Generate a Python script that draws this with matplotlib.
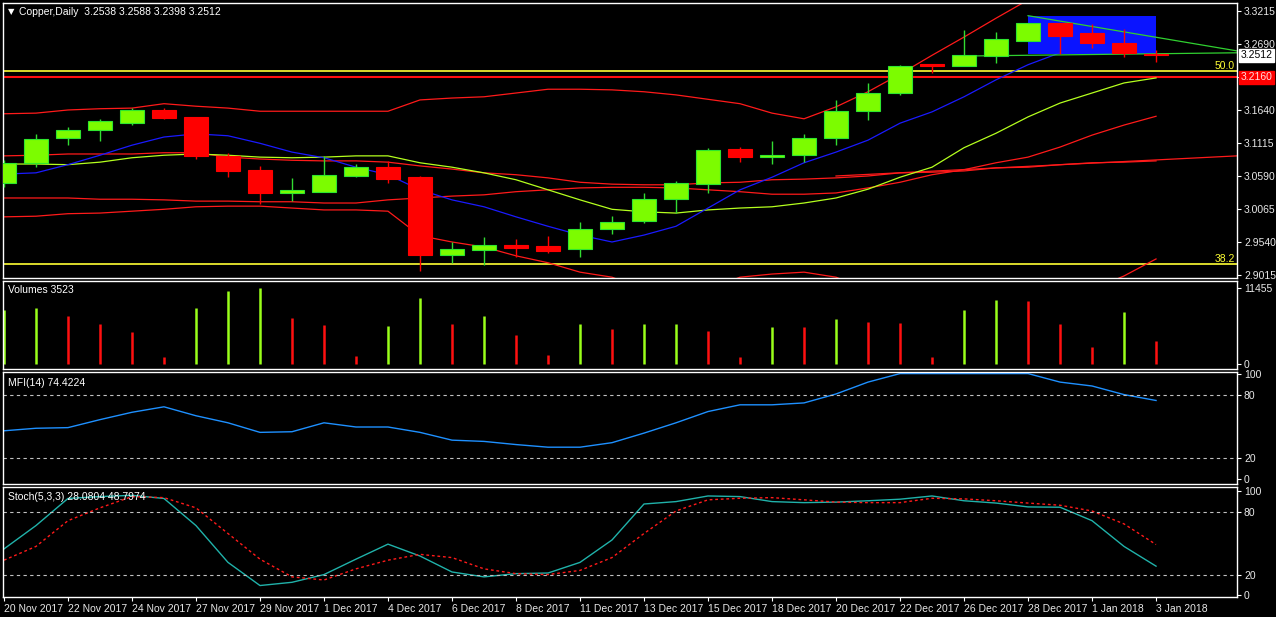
import matplotlib
matplotlib.use("Agg")
import matplotlib.pyplot as plt
import matplotlib.transforms as mtrans
import numpy as np

plt.rcParams['font.family'] = ['Liberation Sans', 'DejaVu Sans']

# ---------------- data ----------------
opens  = [3.048,3.080,3.120,3.132,3.143,3.164,3.153,3.091,3.069,3.032,3.034,3.059,3.073,3.057,2.933,
          2.941,2.949,2.948,2.943,2.975,2.987,3.022,3.046,3.102,3.089,3.092,3.120,3.162,3.191,3.237,
          3.234,3.250,3.274,3.302,3.287,3.271,3.2538]
highs  = [3.084,3.126,3.137,3.150,3.167,3.167,3.153,3.096,3.075,3.056,3.091,3.078,3.083,3.059,2.954,
          2.962,2.959,2.964,2.986,2.995,3.032,3.051,3.104,3.105,3.115,3.126,3.180,3.207,3.236,3.237,
          3.291,3.288,3.302,3.302,3.301,3.293,3.2588]
lows   = [3.042,3.073,3.108,3.115,3.140,3.150,3.086,3.057,3.014,3.019,3.034,3.057,3.048,2.908,2.921,
          2.917,2.930,2.937,2.930,2.967,2.984,3.000,3.032,3.081,3.078,3.081,3.108,3.148,3.188,3.223,
          3.234,3.239,3.274,3.253,3.263,3.248,3.2398]
closes = [3.080,3.118,3.132,3.147,3.164,3.151,3.091,3.067,3.032,3.037,3.061,3.073,3.054,2.933,2.943,
          2.949,2.944,2.940,2.975,2.986,3.022,3.048,3.100,3.089,3.092,3.120,3.162,3.191,3.234,3.234,
          3.252,3.277,3.302,3.282,3.271,3.255,3.2512]

ma_blue = [3.062,3.064,3.077,3.092,3.108,3.121,3.126,3.123,3.111,3.097,3.088,3.073,3.061,3.037,3.021,
           3.010,2.994,2.979,2.965,2.954,2.965,2.979,3.008,3.037,3.057,3.080,3.097,3.116,3.143,3.161,
           3.185,3.212,3.236,3.255]
ma_yellow = [3.078,3.078,3.077,3.081,3.088,3.092,3.094,3.092,3.089,3.088,3.089,3.091,3.091,3.080,3.073,
             3.064,3.053,3.037,3.021,3.006,3.002,3.000,3.005,3.008,3.010,3.016,3.024,3.038,3.057,3.073,
             3.104,3.127,3.153,3.175,3.191,3.207,3.215]
bb_upper = [3.158,3.159,3.164,3.166,3.167,3.174,3.170,3.167,3.162,3.162,3.162,3.162,3.162,3.180,3.183,
            3.185,3.191,3.197,3.197,3.196,3.193,3.188,3.181,3.174,3.159,3.150,3.169,3.193,3.221,3.251,
            3.280,3.310,3.339,3.368,3.396,3.425,3.454]
bb_mid = [3.091,3.092,3.094,3.094,3.094,3.096,3.096,3.089,3.086,3.084,3.083,3.083,3.081,3.075,3.070,
          3.064,3.061,3.056,3.049,3.046,3.045,3.045,3.048,3.049,3.053,3.054,3.056,3.059,3.064,3.065,
          3.067,3.072,3.073,3.077,3.080,3.081,3.083]
bb_lower = [2.994,2.995,2.999,3.000,3.003,3.006,3.010,3.011,3.011,3.008,3.005,3.005,3.003,2.964,2.954,
            2.946,2.932,2.921,2.906,2.898,2.878,2.870,2.878,2.898,2.903,2.906,2.898,2.878,2.862,2.862,
            2.862,2.862,2.862,2.862,2.878,2.900,2.927]
ma_red2 = [3.024,3.024,3.024,3.022,3.022,3.021,3.019,3.019,3.018,3.018,3.016,3.016,3.021,3.024,3.027,
           3.029,3.034,3.037,3.040,3.041,3.041,3.040,3.037,3.034,3.030,3.030,3.032,3.040,3.049,3.061,
           3.069,3.080,3.089,3.105,3.124,3.140,3.154]
red_trend_x = [26, 38.53]
red_trend_y = [3.059, 3.091]
green_top_x = [32, 38.53]
green_top_y = [3.314, 3.258]
green_low_x = [30.3, 38.53]
green_low_y = [3.250, 3.255]
rect_x = [32, 36]
rect_y = [3.253, 3.314]
fib50 = 3.226
fib382 = 2.919
level_red = 3.2160

volumes = [8184,8482,7190,6003,4811,1091,8482,11000,11455,6994,5853,1240,5704,9970,6003,7190,4365,1389,
           6003,5208,6003,6101,4910,1042,5506,5506,6845,6398,6250,1042,8184,9672,9523,6101,2530,7886,3523]
mfi = [45.6,48.0,48.6,56.2,63.2,68.4,59.9,53.2,44.1,44.7,53.2,49.2,49.2,44.1,36.7,35.5,32.5,30.0,30.0,
       34.3,43.4,53.2,63.9,70.3,70.3,72.1,80.6,91.9,100,100,100,100,100,91.9,88.2,80.0,74.4224]
stoch_k = [44.6,67,93,94.8,96,93,67,31.7,9.5,12.6,20,34.8,49.2,37.8,22.5,17.8,20.9,21.5,31.7,53.2,87.7,
           90,95.4,94.8,90,89,89.5,90.8,92.3,95.4,90.8,88.6,84.9,84.6,71.7,47,28.0804]
stoch_d = [33.8,47,71.7,84,94.8,93.8,84,59.4,34.8,17.8,14.8,25.5,33.8,39.4,36.3,25.5,20.9,20,24,36.3,59.4,
           81,91.7,93.2,93.8,91.7,89.5,89,89,93.2,92.6,90.8,88.6,86.5,81,68.6,48.7974]
date_labels = ["20 Nov 2017","22 Nov 2017","24 Nov 2017","27 Nov 2017","29 Nov 2017","1 Dec 2017",
               "4 Dec 2017","6 Dec 2017","8 Dec 2017","11 Dec 2017","13 Dec 2017","15 Dec 2017",
               "18 Dec 2017","20 Dec 2017","22 Dec 2017","26 Dec 2017","28 Dec 2017","1 Jan 2018",
               "3 Jan 2018"]
price_ticks = [3.3215,3.2690,3.2160,3.1640,3.1115,3.0590,3.0065,2.9540,2.9015]

# ---------------- layout ----------------
W, H = 1276, 617
fig = plt.figure(figsize=(W/100, H/100), dpi=100, facecolor='black')
FS = 7.5

def add(l, t, r, b):
    ax = fig.add_axes([l/W, 1-b/H, (r-l)/W, (b-t)/H])
    ax.set_facecolor('black')
    for s in ax.spines.values():
        s.set_color('white'); s.set_linewidth(1)
    ax.tick_params(colors='white', labelcolor='#e8e8e8', labelsize=FS, length=3, width=0.8,
                   left=False, labelleft=False, bottom=False, labelbottom=False,
                   right=True, labelright=True, pad=2)
    return ax

n = len(closes)
x = np.arange(n)
XL = (-0.03, 38.53)

ax = add(3, 3, 1237, 278)
axv = add(3, 281, 1237, 369)
axm = add(3, 372, 1237, 484)
axs = add(3, 487, 1237, 597)
for a in (ax, axv, axm, axs):
    a.set_xlim(*XL)

# main
ax.set_ylim(2.8967, 3.3342)
ax.set_yticks(price_ticks)
ax.set_yticklabels(["" if p == level_red else f"{p:.4f}" for p in price_ticks])
ax.axhline(fib50, color='#ffff33', lw=1.2, zorder=1)
ax.axhline(fib382, color='#ffff33', lw=1.2, zorder=1)
ax.axhline(level_red, color='#ff1010', lw=1.5, zorder=1)
ax.fill_between(rect_x, rect_y[0], rect_y[1], color='#0a14ff', zorder=1, lw=0)
ax.plot(x, bb_upper, color='#ff1a1a', lw=0.9, zorder=2)
ax.plot(x, bb_mid, color='#ff1a1a', lw=0.9, zorder=2)
ax.plot(x, bb_lower, color='#ff1a1a', lw=0.9, zorder=2)
ax.plot(x, ma_red2, color='#ff1a1a', lw=0.9, zorder=2)
ax.plot(red_trend_x, red_trend_y, color='#ff1a1a', lw=0.9, zorder=2)
ax.plot(x, ma_yellow, color='#b4ff1e', lw=0.9, zorder=2)
ax.plot(np.arange(len(ma_blue)), ma_blue, color='#1a1aff', lw=0.9, zorder=2)
ax.plot(green_top_x, green_top_y, color='#30d030', lw=0.9, zorder=2)
ax.plot(green_low_x, green_low_y, color='#30d030', lw=0.9, zorder=2)

o = np.array(opens); c = np.array(closes)
up = c >= o
for i in range(n):
    col = '#32dc32' if up[i] else '#ff0000'
    ax.vlines(i, lows[i], highs[i], color=col, lw=1, zorder=3)
bw = 0.75
ax.bar(x[up], (c-o)[up], bottom=o[up], width=bw, color='#7cfc00', edgecolor='#2ee62e', lw=0.8, zorder=4)
ax.bar(x[~up], (o-c)[~up], bottom=c[~up], width=bw, color='#ff0000', edgecolor='#ff0000', lw=0.8, zorder=4)

ax.text(0.004, 0.985, "\u25bc", transform=ax.transAxes, color='white', fontsize=6, va='top',
        family='DejaVu Sans')
ax.text(0.013, 0.985, "Copper,Daily  3.2538 3.2588 3.2398 3.2512", transform=ax.transAxes,
        color='white', fontsize=FS, va='top')
tr = mtrans.blended_transform_factory(ax.transAxes, ax.transData)
ax.text(1.003, closes[-1], f"{closes[-1]:.4f}", transform=tr, color='black', fontsize=FS, va='center',
        bbox=dict(boxstyle='square,pad=0.15', fc='white', ec='white'), zorder=10, clip_on=False)
ax.text(1.003, level_red, f"{level_red:.4f}", transform=tr, color='#ffdddd', fontsize=FS, va='center',
        bbox=dict(boxstyle='square,pad=0.15', fc='#ff0000', ec='#ff0000'), zorder=10, clip_on=False)
ax.text(0.998, fib50, "50.0", transform=tr, color='#ffff33', fontsize=FS, ha='right', va='bottom')
ax.text(0.998, fib382, "38.2", transform=tr, color='#ffff33', fontsize=FS, ha='right', va='bottom')

# volumes
vcol = ['#9aff1a' if (i == 0 or volumes[i] > volumes[i-1]) else '#ff1010' for i in range(n)]
axv.vlines(x, 0, volumes, colors=vcol, lw=1.8)
axv.set_ylim(-744, 12499)
axv.set_yticks([0, 11455]); axv.set_yticklabels(["0", "11455"])
axv.text(0.004, 0.95, f"Volumes {volumes[-1]}", transform=axv.transAxes, color='white', fontsize=FS, va='top')

# MFI
axm.plot(x, mfi, color='#1e90ff', lw=1)
axm.set_ylim(-5, 101.5)
axm.axhline(80, color='#c0c0c0', lw=0.8, ls=(0, (3, 3)))
axm.axhline(20, color='#c0c0c0', lw=0.8, ls=(0, (3, 3)))
axm.set_yticks([0, 20, 80, 100])
axm.text(0.004, 0.95, f"MFI(14) {mfi[-1]:.4f}", transform=axm.transAxes,
         color='white', fontsize=FS, va='top')

# Stoch
axs.plot(x, stoch_k, color='#20b2aa', lw=1)
axs.plot(x, stoch_d, color='#ff1a1a', lw=1, ls=(0, (2, 2)))
axs.set_ylim(-1.5, 104)
axs.axhline(80, color='#c0c0c0', lw=0.8, ls=(0, (3, 3)))
axs.axhline(20, color='#c0c0c0', lw=0.8, ls=(0, (3, 3)))
axs.set_yticks([0, 20, 80, 100])
axs.text(0.004, 0.95, f"Stoch(5,3,3) {stoch_k[-1]:.4f} {stoch_d[-1]:.4f}", transform=axs.transAxes,
         color='white', fontsize=FS, va='top')
axs.tick_params(bottom=True, labelbottom=True, length=3)
axs.set_xticks(np.arange(0, n, 2))
axs.set_xticklabels(date_labels, ha='left', fontsize=FS)

fig.savefig("out.png", dpi=100, facecolor='black')
